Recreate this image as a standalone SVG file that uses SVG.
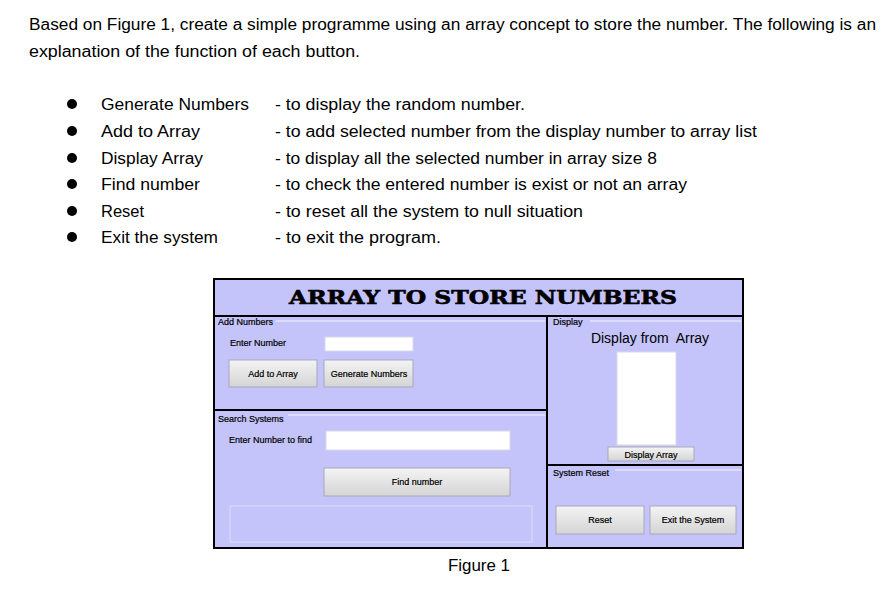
<svg xmlns="http://www.w3.org/2000/svg" width="883" height="598" viewBox="0 0 883 598">
<style>
.t{font-family:"Liberation Sans",Arial,sans-serif;font-size:16px;fill:#000}
.s{font-family:"Liberation Sans",Arial,sans-serif;font-size:9px;fill:#000;stroke:#000;stroke-width:0.2}
.b{font-family:"Liberation Sans",Arial,sans-serif;font-size:9px;fill:#000;text-anchor:middle;stroke:#000;stroke-width:0.2}
.btn{fill:url(#g);stroke:#a8a8b8;stroke-width:1}
.pan{fill:#c4c4fa;stroke:#000;stroke-width:2}
.grp{stroke:#e4e4ff;stroke-width:1.5;fill:none}
.in{fill:#fff;stroke:#d8d8ea}
</style>
<defs><linearGradient id="g" x1="0" y1="0" x2="0" y2="1"><stop offset="0" stop-color="#f4f4f4"/><stop offset="1" stop-color="#d4d4d4"/></linearGradient></defs>
<rect width="883" height="598" fill="#fff"/>
<g id="intro">
<text class="t" x="29" y="30" textLength="847" lengthAdjust="spacingAndGlyphs">Based on Figure 1, create a simple programme using an array concept to store the number. The following is an</text>
<text class="t" x="29" y="57" textLength="331" lengthAdjust="spacingAndGlyphs">explanation of the function of each button.</text>
</g>
<g id="list">
<circle cx="72" cy="104" r="5"/><circle cx="72" cy="131" r="5"/><circle cx="72" cy="158" r="5"/><circle cx="72" cy="184" r="5"/><circle cx="72" cy="211" r="5"/><circle cx="72" cy="237" r="5"/>
<text class="t" x="101" y="110" textLength="148" lengthAdjust="spacingAndGlyphs">Generate Numbers</text>
<text class="t" x="101" y="137" textLength="99" lengthAdjust="spacingAndGlyphs">Add to Array</text>
<text class="t" x="101" y="164" textLength="102" lengthAdjust="spacingAndGlyphs">Display Array</text>
<text class="t" x="101" y="190" textLength="99" lengthAdjust="spacingAndGlyphs">Find number</text>
<text class="t" x="101" y="217" textLength="43" lengthAdjust="spacingAndGlyphs">Reset</text>
<text class="t" x="101" y="243" textLength="117" lengthAdjust="spacingAndGlyphs">Exit the system</text>
<text class="t" x="275" y="110" textLength="250" lengthAdjust="spacingAndGlyphs">- to display the random number.</text>
<text class="t" x="275" y="137" textLength="482" lengthAdjust="spacingAndGlyphs">- to add selected number from the display number to array list</text>
<text class="t" x="275" y="164" textLength="382" lengthAdjust="spacingAndGlyphs">- to display all the selected number in array size 8</text>
<text class="t" x="275" y="190" textLength="412" lengthAdjust="spacingAndGlyphs">- to check the entered number is exist or not an array</text>
<text class="t" x="275" y="217" textLength="308" lengthAdjust="spacingAndGlyphs">- to reset all the system to null situation</text>
<text class="t" x="275" y="243" textLength="166" lengthAdjust="spacingAndGlyphs">- to exit the program.</text>
</g>
<g id="form">
<rect x="214" y="279" width="529" height="269" fill="#c4c4fa" stroke="#000" stroke-width="2"/>
<text x="483" y="304" text-anchor="middle" font-family="DejaVu Serif,serif" font-weight="bold" font-size="18" stroke="#000" stroke-width="0.6" textLength="388" lengthAdjust="spacingAndGlyphs">ARRAY TO STORE NUMBERS</text>
</g>
<g id="addNumbers">
<rect class="pan" x="214" y="316" width="333" height="94"/>
<line class="grp" x1="276" y1="321" x2="545" y2="321"/>
<text class="s" x="218" y="325">Add Numbers</text>
<text class="s" x="230" y="346">Enter Number</text>
<rect class="in" x="325" y="337" width="88" height="14"/>
<rect class="btn" x="229" y="360" width="88" height="27"/><text class="b" x="273" y="377">Add to Array</text>
<rect class="btn" x="324" y="360" width="89" height="27"/><text class="b" x="369" y="377">Generate Numbers</text>
</g>
<g id="searchSystems">
<rect class="pan" x="214" y="410" width="333" height="138"/>
<line class="grp" x1="288" y1="415" x2="545" y2="415"/>
<text class="s" x="218" y="422">Search Systems</text>
<text class="s" x="229" y="443">Enter Number to find</text>
<rect class="in" x="326" y="431" width="184" height="19"/>
<rect class="btn" x="324" y="468" width="186" height="28"/><text class="b" x="417" y="485">Find number</text>
<rect x="230" y="506" width="302" height="36" fill="none" stroke="#dcdcf6"/>
</g>
<g id="display">
<rect class="pan" x="547" y="316" width="196" height="149"/>
<line class="grp" x1="590" y1="321" x2="741" y2="321"/>
<text class="s" x="553" y="325">Display</text>
<text x="650" y="343" text-anchor="middle" font-family="Liberation Sans,Arial,sans-serif" font-size="14">Display from&#160; Array</text>
<rect class="in" x="617" y="352" width="59" height="93"/>
<rect class="btn" x="608" y="447" width="86" height="14"/><text class="b" x="651" y="458">Display Array</text>
</g>
<g id="systemReset">
<rect class="pan" x="547" y="465" width="196" height="83"/>
<line class="grp" x1="615" y1="470" x2="741" y2="470"/>
<text class="s" x="553" y="476">System Reset</text>
<rect class="btn" x="556" y="506" width="88" height="28"/><text class="b" x="600" y="523">Reset</text>
<rect class="btn" x="650" y="506" width="86" height="28"/><text class="b" x="693" y="523">Exit the System</text>
</g>
<text class="t" x="448" y="571" textLength="62" lengthAdjust="spacingAndGlyphs">Figure 1</text>
</svg>
